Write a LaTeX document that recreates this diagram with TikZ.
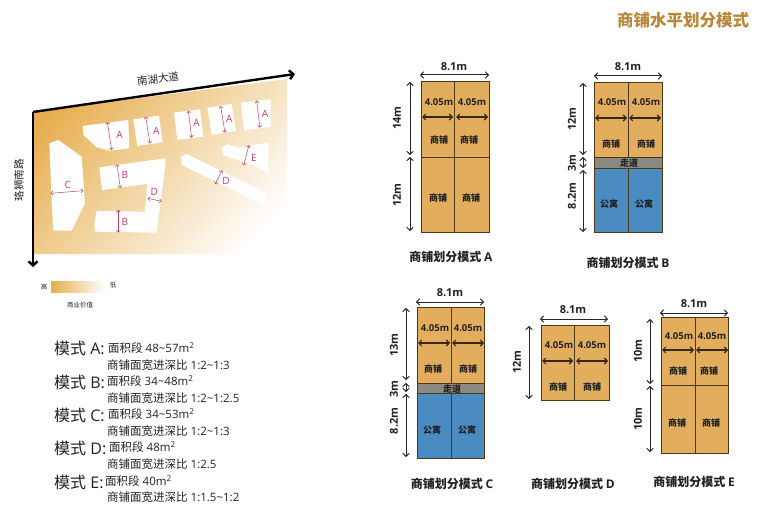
\documentclass[tikz,border=0pt]{standalone}
\usepackage{fontspec}
\setmainfont{Open Sans}
\newfontfamily\cjk{Noto Sans CJK SC}
\usetikzlibrary{arrows.meta}
\definecolor{shopc}{HTML}{E2AE5E}
\definecolor{edgec}{HTML}{4F3714}
\definecolor{flatc}{HTML}{4A8CC1}
\definecolor{aislec}{HTML}{8B8983}
\definecolor{redc}{HTML}{BE3F62}
\definecolor{goldc}{HTML}{B9873A}
\definecolor{txtc}{HTML}{222222}
\definecolor{gradc}{HTML}{E6AE4E}
\tikzset{
  cellbox/.style={draw=edgec,line width=0.7pt},
  dimline/.style={draw=black!85,line width=1pt,{Straight Barb[length=3pt,width=6.5pt]}-{Straight Barb[length=3pt,width=6.5pt]}},
  innerdim/.style={draw=edgec!70!black,line width=1.1pt,{Straight Barb[length=3pt,width=6pt]}-{Straight Barb[length=3pt,width=6pt]}},
  reddim/.style={draw=redc,line width=0.5pt,{Straight Barb[length=2pt,width=4pt]}-{Straight Barb[length=2pt,width=4pt]}},
  road/.style={draw=black,line width=2.4pt,-{Straight Barb[length=4pt,width=9pt,line width=2.4pt]}},
  dimtxt/.style={text=txtc,font=\fontsize{11}{12}\selectfont\bfseries,inner sep=0pt},
  smalltxt/.style={text=txtc,font=\fontsize{9.5}{11}\selectfont\bfseries,inner sep=0pt},
  celltxt/.style={text=txtc,font=\cjk\fontsize{9}{10}\selectfont\bfseries,inner sep=0pt},
  titletxt/.style={text=txtc,font=\cjk\fontsize{12}{13}\selectfont\bfseries,inner sep=0pt},
  redtxt/.style={text=redc,font=\fontsize{10}{12}\selectfont,inner sep=0pt},
  modetxt/.style={anchor=west,text=txtc,font=\fontsize{16}{18}\selectfont,inner sep=0pt},
  desctxt/.style={anchor=west,text=txtc,font=\fontsize{11.5}{13}\selectfont,inner sep=0pt},
  block/.style={fill=white},
}
% dimension arrow between two named coordinates
\newcommand{\dimar}[6]{\coordinate (#2a) at (#3,#4);\coordinate (#2b) at (#5,#6);\draw[#1] (#2a) -- (#2b);}
\newcommand{\cellr}[6]{\draw[cellbox,fill=#2] (#3,#4) coordinate (#1a) rectangle (#5,#6) coordinate (#1b);}
\newcommand{\zz}[1]{{\cjk #1}}
\newcommand{\mo}[1]{{\cjk\fontsize{16}{18}\selectfont 模式} #1}
\begin{document}
\begin{tikzpicture}[x=1pt,y=-1pt]
\useasboundingbox (0,0) rectangle (760,516);
\fill[white] (0,0) rectangle (760,516);

% heading
\node[text=goldc,font=\cjk\fontsize{16.5}{18}\selectfont\bfseries,inner sep=0pt] (head) at (683,20) {商铺水平划分模式};

% site plan
\begin{scope}
\clip (33,112) -- (287,79) -- (287,254) -- (33,254) -- cycle;
\shade[left color=gradc,middle color=gradc!50!white,right color=white,shading angle=48] (20,70) rectangle (300,262);
\end{scope}
\begin{scope}[shift={(0,60)},x=0.3333pt,y=-0.3333pt]
\fill[block] (248,198)--(385,180)--(388,265)--(330,272)--(290,262)--(250,225)--cycle;
\fill[block] (400,178)--(477,167)--(488,247)--(412,258)--cycle;
\fill[block] (522,158)--(600,148)--(610,230)--(532,240)--cycle;
\fill[block] (622,143)--(695,132)--(708,213)--(635,225)--cycle;
\fill[block] (722,128)--(812,118)--(812,200)--(733,212)--cycle;
\fill[block] (665,265)--(680,253)--(720,263)--(805,248)--(805,340)--(770,320)--(670,285)--cycle;
\fill[block] (542,290)--(560,282)--(800,400)--(798,438)--(545,315)--cycle;
\fill[block] (298,322)--(497,295)--(497,310)--(470,518)--(285,515)--(283,490)--(290,453)--(435,455)--(442,372)--(306,390)--cycle;
\fill[block] (148,250)--(175,240)--(245,290)--(255,430)--(215,512)--(160,512)--(155,420)--cycle;
\dimar{reddim}{ra1}{322}{186}{335}{270}
\dimar{reddim}{ra2}{437}{170}{450}{250}
\dimar{reddim}{ra3}{565}{152}{575}{233}
\dimar{reddim}{ra4}{662}{138}{675}{218}
\dimar{reddim}{ra5}{770}{122}{780}{203}
\dimar{reddim}{rb1}{351}{313}{361}{384}
\dimar{reddim}{rb2}{355}{450}{355}{518}
\dimar{reddim}{rc}{152}{400}{250}{392}
\dimar{reddim}{rd1}{443}{415}{485}{424}
\dimar{reddim}{rd2}{666}{331}{646}{372}
\dimar{reddim}{re}{747}{256}{731}{316}
\node[redtxt] (la1) at (359,226) {A};
\node[redtxt] (la2) at (469,212) {A};
\node[redtxt] (la3) at (590,190) {A};
\node[redtxt] (la4) at (688,178) {A};
\node[redtxt] (la5) at (795,161) {A};
\node[redtxt] (lb1) at (375,346) {B};
\node[redtxt] (lb2) at (375,485) {B};
\node[redtxt] (lc) at (203,375) {C};
\node[redtxt] (ld1) at (463,395) {D};
\node[redtxt] (ld2) at (678,362) {D};
\node[redtxt] (le) at (762,293) {E};
\end{scope}
\coordinate (corner) at (33,112);
\coordinate (roadE) at (295,74);
\coordinate (roadS) at (33,267);
\draw[road] (corner) -- (roadE);
\draw[road] (corner) -- (roadS);
\node[rotate=7.5,text=txtc,font=\cjk\fontsize{10.5}{12}\selectfont,inner sep=0pt] (r1) at (158,79) {南湖大道};
\node[rotate=90,text=txtc,font=\cjk\fontsize{10.5}{12}\selectfont,inner sep=0pt] (r2) at (19,180) {珞狮南路};

% legend
\shade[left color=gradc,right color=white] (51,281) rectangle (105,292);
\node[text=txtc,font=\cjk\fontsize{6.5}{7}\selectfont,inner sep=0pt] (lg1) at (44,287) {高};
\node[text=txtc,font=\cjk\fontsize{6.5}{7}\selectfont,inner sep=0pt] (lg2) at (113,285) {低};
\node[text=txtc,font=\cjk\fontsize{6.5}{7}\selectfont,inner sep=0pt] (lg3) at (80,305) {商业价值};

% mode text
\node[modetxt] (m1) at (54,348) {\mo{A:}};
\node[desctxt] (d1) at (108,348) {\zz{面积段} 48\textasciitilde57m\textsuperscript{2}};
\node[desctxt] (e1) at (107,365) {\zz{商铺面宽进深比} 1:2\textasciitilde1:3};
\node[modetxt] (m2) at (54,382) {\mo{B:}};
\node[desctxt] (d2) at (107,381) {\zz{面积段} 34\textasciitilde48m\textsuperscript{2}};
\node[desctxt] (e2) at (107,398) {\zz{商铺面宽进深比} 1:2\textasciitilde1:2.5};
\node[modetxt] (m3) at (54,415) {\mo{C:}};
\node[desctxt] (d3) at (108,414) {\zz{面积段} 34\textasciitilde53m\textsuperscript{2}};
\node[desctxt] (e3) at (107,431) {\zz{商铺面宽进深比} 1:2\textasciitilde1:3};
\node[modetxt] (m4) at (54,448) {\mo{D:}};
\node[desctxt] (d4) at (109,447) {\zz{面积段} 48m\textsuperscript{2}};
\node[desctxt] (e4) at (107,464) {\zz{商铺面宽进深比} 1:2.5};
\node[modetxt] (m5) at (54,482) {\mo{E:}};
\node[desctxt] (d5) at (105,481) {\zz{面积段} 40m\textsuperscript{2}};
\node[desctxt] (e5) at (107,497) {\zz{商铺面宽进深比} 1:1.5\textasciitilde1:2};

% ---- panel A
\cellr{aa}{shopc}{421}{81}{454}{157}
\cellr{ab}{shopc}{454}{81}{489}{157}
\cellr{ac}{shopc}{421}{157}{454}{232}
\cellr{ad}{shopc}{454}{157}{489}{232}
\dimar{dimline}{aw}{420}{75}{489}{75}
\dimar{dimline}{av1}{410}{82}{410}{155}
\dimar{dimline}{av2}{410}{157}{410}{231}
\dimar{innerdim}{ai1}{422}{117}{453}{117}
\dimar{innerdim}{ai2}{456}{117}{488}{117}
\node[dimtxt] (at1) at (454,67) {8.1m};
\node[dimtxt,rotate=90] (at2) at (397,118) {14m};
\node[dimtxt,rotate=90] (at3) at (397,195) {12m};
\node[smalltxt] (at4) at (439,102) {4.05m};
\node[smalltxt] (at5) at (472,102) {4.05m};
\node[celltxt] (at6) at (439,140) {商铺};
\node[celltxt] (at7) at (469,140) {商铺};
\node[celltxt] (at8) at (438,198) {商铺};
\node[celltxt] (at9) at (471,198) {商铺};
\node[titletxt] (atA) at (451,257) {商铺划分模式 {\fontspec{Open Sans}\bfseries A}};

% ---- panel B
\cellr{ba}{shopc}{594}{82}{628}{157}
\cellr{bb}{shopc}{628}{82}{662}{157}
\cellr{bc}{aislec}{594}{157}{662}{168}
\cellr{bd}{flatc}{594}{168}{628}{232}
\cellr{be}{flatc}{628}{168}{662}{232}
\dimar{dimline}{bw}{594}{76}{662}{76}
\dimar{dimline}{bv1}{583}{83}{583}{155}
\dimar{dimline}{bv2}{583}{157}{583}{168}
\dimar{dimline}{bv3}{583}{170}{583}{232}
\dimar{innerdim}{bi1}{595}{118}{627}{118}
\dimar{innerdim}{bi2}{629}{118}{661}{118}
\node[dimtxt] (bt1) at (628,67) {8.1m};
\node[dimtxt,rotate=90] (bt2) at (572,119) {12m};
\node[dimtxt,rotate=90] (bt3) at (572,163) {3m};
\node[dimtxt,rotate=90] (bt4) at (572,196) {8.2m};
\node[smalltxt] (bt5) at (612,102) {4.05m};
\node[smalltxt] (bt6) at (646,102) {4.05m};
\node[celltxt] (bt7) at (611,144) {商铺};
\node[celltxt] (bt8) at (646,144) {商铺};
\node[celltxt] (bt9) at (629,163) {走道};
\node[celltxt] (btA) at (609,204) {公寓};
\node[celltxt] (btB) at (644,204) {公寓};
\node[titletxt] (btC) at (628,263) {商铺划分模式 {\fontspec{Open Sans}\bfseries B}};

% ---- panel C
\cellr{ca}{shopc}{417}{307}{451}{383}
\cellr{cb}{shopc}{451}{307}{484}{383}
\cellr{cc}{aislec}{417}{383}{484}{393}
\cellr{cd}{flatc}{417}{393}{451}{458}
\cellr{ce}{flatc}{451}{393}{484}{458}
\dimar{dimline}{cw}{416}{302}{484}{302}
\dimar{dimline}{cv1}{406}{308}{406}{380}
\dimar{dimline}{cv2}{406}{383}{406}{392}
\dimar{dimline}{cv3}{406}{394}{406}{457}
\dimar{innerdim}{ci1}{418}{343}{450}{343}
\dimar{innerdim}{ci2}{452}{343}{484}{343}
\node[dimtxt] (ct1) at (450,293) {8.1m};
\node[dimtxt,rotate=90] (ct2) at (394,345) {13m};
\node[dimtxt,rotate=90] (ct3) at (394,389) {3m};
\node[dimtxt,rotate=90] (ct4) at (394,421) {8.2m};
\node[smalltxt] (ct5) at (435,328) {4.05m};
\node[smalltxt] (ct6) at (468,328) {4.05m};
\node[celltxt] (ct7) at (433,369) {商铺};
\node[celltxt] (ct8) at (468,369) {商铺};
\node[celltxt] (ct9) at (452,389) {走道};
\node[celltxt] (ctA) at (432,430) {公寓};
\node[celltxt] (ctB) at (467,430) {公寓};
\node[titletxt] (ctC) at (452,484) {商铺划分模式 {\fontspec{Open Sans}\bfseries C}};

% ---- panel D
\cellr{da}{shopc}{541}{325}{574}{400}
\cellr{db}{shopc}{574}{325}{609}{400}
\dimar{dimline}{dw}{540}{319}{608}{319}
\dimar{dimline}{dv}{529}{326}{529}{399}
\dimar{innerdim}{di1}{542}{361}{573}{361}
\dimar{innerdim}{di2}{576}{361}{608}{361}
\node[dimtxt] (dt1) at (573,310) {8.1m};
\node[dimtxt,rotate=90] (dt2) at (517,362) {12m};
\node[smalltxt] (dt3) at (559,345) {4.05m};
\node[smalltxt] (dt4) at (592,345) {4.05m};
\node[celltxt] (dt5) at (558,387) {商铺};
\node[celltxt] (dt6) at (592,387) {商铺};
\node[titletxt] (dt7) at (573,484) {商铺划分模式 {\fontspec{Open Sans}\bfseries D}};

% ---- panel E
\cellr{ea}{shopc}{661}{317}{695}{385}
\cellr{eb}{shopc}{695}{317}{728}{385}
\cellr{ec}{shopc}{661}{385}{695}{453}
\cellr{ed}{shopc}{695}{385}{728}{453}
\dimar{dimline}{ew}{660}{313}{728}{313}
\dimar{dimline}{ev1}{650}{319}{650}{384}
\dimar{dimline}{ev2}{650}{386}{650}{452}
\dimar{innerdim}{ei1}{662}{350}{694}{350}
\dimar{innerdim}{ei2}{696}{350}{728}{350}
\node[dimtxt] (et1) at (694,304) {8.1m};
\node[dimtxt,rotate=90] (et2) at (638,351) {10m};
\node[dimtxt,rotate=90] (et3) at (638,419) {10m};
\node[smalltxt] (et4) at (679,336) {4.05m};
\node[smalltxt] (et5) at (712,336) {4.05m};
\node[celltxt] (et6) at (678,371) {商铺};
\node[celltxt] (et7) at (709,371) {商铺};
\node[celltxt] (et8) at (677,423) {商铺};
\node[celltxt] (et9) at (711,423) {商铺};
\node[titletxt] (etA) at (694,482) {商铺划分模式 {\fontspec{Open Sans}\bfseries E}};
\end{tikzpicture}
\end{document}
